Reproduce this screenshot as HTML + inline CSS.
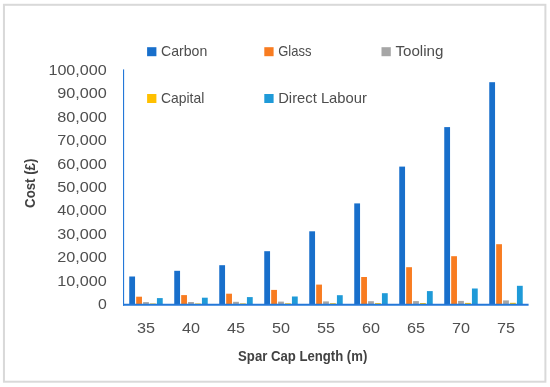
<!DOCTYPE html>
<html lang="en"><head><meta charset="utf-8"><title>Cost vs Spar Cap Length</title>
<style>
html,body{margin:0;padding:0;background:#fff;}
body{width:550px;height:387px;overflow:hidden;}
svg{display:block;font-family:"Liberation Sans",sans-serif;}
.t{fill:#4f4f4f;font-size:15.5px;}
.lg{fill:#4d4d4d;font-size:14.4px;}
.b{fill:#424242;font-size:14px;font-weight:bold;}
</style></head><body>
<svg width="550" height="387" viewBox="0 0 550 387">
<rect x="0" y="0" width="550" height="387" fill="#ffffff"/>
<rect x="3.95" y="4.8" width="541.45" height="376.9" fill="none" stroke="#d9d9d9" stroke-width="2"/>
<g fill="#186fcb"><rect x="129.25" y="276.50" width="5.80" height="28.05"/><rect x="174.25" y="270.80" width="5.80" height="33.75"/><rect x="219.25" y="265.20" width="5.80" height="39.35"/><rect x="264.25" y="251.20" width="5.80" height="53.35"/><rect x="309.25" y="231.30" width="5.80" height="73.25"/><rect x="354.25" y="203.40" width="5.80" height="101.15"/><rect x="399.25" y="166.60" width="5.80" height="137.95"/><rect x="444.25" y="127.10" width="5.80" height="177.45"/><rect x="489.25" y="82.20" width="5.80" height="222.35"/></g>
<g fill="#f87c21"><rect x="136.17" y="296.70" width="5.80" height="7.85"/><rect x="181.17" y="295.10" width="5.80" height="9.45"/><rect x="226.17" y="293.70" width="5.80" height="10.85"/><rect x="271.17" y="289.90" width="5.80" height="14.65"/><rect x="316.17" y="284.60" width="5.80" height="19.95"/><rect x="361.17" y="277.00" width="5.80" height="27.55"/><rect x="406.17" y="267.20" width="5.80" height="37.35"/><rect x="451.17" y="256.20" width="5.80" height="48.35"/><rect x="496.17" y="244.20" width="5.80" height="60.35"/></g>
<g fill="#a6a6a6"><rect x="143.09" y="302.10" width="5.80" height="2.45"/><rect x="188.09" y="302.00" width="5.80" height="2.55"/><rect x="233.09" y="301.80" width="5.80" height="2.75"/><rect x="278.09" y="301.60" width="5.80" height="2.95"/><rect x="323.09" y="301.40" width="5.80" height="3.15"/><rect x="368.09" y="301.20" width="5.80" height="3.35"/><rect x="413.09" y="301.10" width="5.80" height="3.45"/><rect x="458.09" y="300.90" width="5.80" height="3.65"/><rect x="503.09" y="300.40" width="5.80" height="4.15"/></g>
<g fill="#ffc000"><rect x="150.01" y="303.50" width="5.80" height="1.05"/><rect x="195.01" y="303.50" width="5.80" height="1.05"/><rect x="240.01" y="303.40" width="5.80" height="1.15"/><rect x="285.01" y="303.30" width="5.80" height="1.25"/><rect x="330.01" y="303.20" width="5.80" height="1.35"/><rect x="375.01" y="303.10" width="5.80" height="1.45"/><rect x="420.01" y="303.00" width="5.80" height="1.55"/><rect x="465.01" y="302.90" width="5.80" height="1.65"/><rect x="510.01" y="302.80" width="5.80" height="1.75"/></g>
<g fill="#1f9ad8"><rect x="156.93" y="298.10" width="5.80" height="6.45"/><rect x="201.93" y="297.70" width="5.80" height="6.85"/><rect x="246.93" y="297.10" width="5.80" height="7.45"/><rect x="291.93" y="296.50" width="5.80" height="8.05"/><rect x="336.93" y="295.20" width="5.80" height="9.35"/><rect x="381.93" y="293.20" width="5.80" height="11.35"/><rect x="426.93" y="291.10" width="5.80" height="13.45"/><rect x="471.93" y="288.50" width="5.80" height="16.05"/><rect x="516.93" y="285.80" width="5.80" height="18.75"/></g>
<line x1="123.55" y1="69.40" x2="123.55" y2="305.65" stroke="#2478d8" stroke-width="1.15"/>
<line x1="123.00" y1="304.75" x2="528.60" y2="304.75" stroke="#2478d8" stroke-width="1.8"/>
<text class="t" x="106.8" y="309.00" text-anchor="end" textLength="8.8" lengthAdjust="spacingAndGlyphs">0</text>
<text class="t" x="106.8" y="286.00" text-anchor="end" textLength="49.6" lengthAdjust="spacingAndGlyphs">10,000</text>
<text class="t" x="106.8" y="262.00" text-anchor="end" textLength="49.6" lengthAdjust="spacingAndGlyphs">20,000</text>
<text class="t" x="106.8" y="239.00" text-anchor="end" textLength="49.6" lengthAdjust="spacingAndGlyphs">30,000</text>
<text class="t" x="106.8" y="215.00" text-anchor="end" textLength="49.6" lengthAdjust="spacingAndGlyphs">40,000</text>
<text class="t" x="106.8" y="192.00" text-anchor="end" textLength="49.6" lengthAdjust="spacingAndGlyphs">50,000</text>
<text class="t" x="106.8" y="169.00" text-anchor="end" textLength="49.6" lengthAdjust="spacingAndGlyphs">60,000</text>
<text class="t" x="106.8" y="145.00" text-anchor="end" textLength="49.6" lengthAdjust="spacingAndGlyphs">70,000</text>
<text class="t" x="106.8" y="122.00" text-anchor="end" textLength="49.6" lengthAdjust="spacingAndGlyphs">80,000</text>
<text class="t" x="106.8" y="98.00" text-anchor="end" textLength="49.6" lengthAdjust="spacingAndGlyphs">90,000</text>
<text class="t" x="106.8" y="75.00" text-anchor="end" textLength="58.4" lengthAdjust="spacingAndGlyphs">100,000</text>
<text class="t" x="145.90" y="333.1" text-anchor="middle" textLength="18" lengthAdjust="spacingAndGlyphs">35</text>
<text class="t" x="190.90" y="333.1" text-anchor="middle" textLength="18" lengthAdjust="spacingAndGlyphs">40</text>
<text class="t" x="235.90" y="333.1" text-anchor="middle" textLength="18" lengthAdjust="spacingAndGlyphs">45</text>
<text class="t" x="280.90" y="333.1" text-anchor="middle" textLength="18" lengthAdjust="spacingAndGlyphs">50</text>
<text class="t" x="325.90" y="333.1" text-anchor="middle" textLength="18" lengthAdjust="spacingAndGlyphs">55</text>
<text class="t" x="370.90" y="333.1" text-anchor="middle" textLength="18" lengthAdjust="spacingAndGlyphs">60</text>
<text class="t" x="415.90" y="333.1" text-anchor="middle" textLength="18" lengthAdjust="spacingAndGlyphs">65</text>
<text class="t" x="460.90" y="333.1" text-anchor="middle" textLength="18" lengthAdjust="spacingAndGlyphs">70</text>
<text class="t" x="505.90" y="333.1" text-anchor="middle" textLength="18" lengthAdjust="spacingAndGlyphs">75</text>
<text class="b" x="302.7" y="360.6" text-anchor="middle" textLength="129.2" lengthAdjust="spacingAndGlyphs">Spar Cap Length (m)</text>
<text class="b" transform="translate(35.1,183.3) rotate(-90)" x="0" y="0" text-anchor="middle" textLength="49.2" lengthAdjust="spacingAndGlyphs">Cost (£)</text>
<rect x="147.1" y="47.2" width="9.3" height="9" fill="#186fcb"/><text class="lg" x="161.0" y="56.1" textLength="46.3" lengthAdjust="spacingAndGlyphs">Carbon</text>
<rect x="264.3" y="47.2" width="9.3" height="9" fill="#f87c21"/><text class="lg" x="278.2" y="56.1" textLength="33.2" lengthAdjust="spacingAndGlyphs">Glass</text>
<rect x="381.5" y="47.2" width="9.3" height="9" fill="#a6a6a6"/><text class="lg" x="395.4" y="56.1" textLength="48.0" lengthAdjust="spacingAndGlyphs">Tooling</text>
<rect x="147.1" y="94.0" width="9.3" height="9" fill="#ffc000"/><text class="lg" x="161.0" y="102.9" textLength="43.3" lengthAdjust="spacingAndGlyphs">Capital</text>
<rect x="264.3" y="94.0" width="9.3" height="9" fill="#1f9ad8"/><text class="lg" x="278.2" y="102.9" textLength="88.7" lengthAdjust="spacingAndGlyphs">Direct Labour</text>
</svg>
</body></html>
